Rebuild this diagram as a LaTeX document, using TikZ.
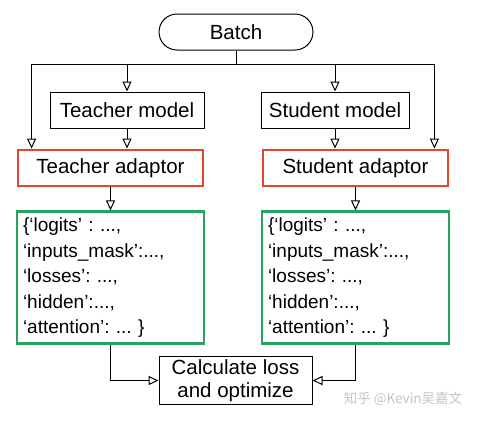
\documentclass[tikz,border=0pt]{standalone}
\usepackage{fontspec}
\setmainfont{Liberation Sans}
\newfontfamily\cjk{Noto Sans CJK SC}
\usepackage{xcolor}
\usepackage{tikz}
\usetikzlibrary{arrows.meta,positioning}
\frenchspacing
\definecolor{adaptred}{HTML}{E4462C}
\definecolor{outgreen}{HTML}{26A35E}
\definecolor{markgray}{HTML}{C4C4C4}
\tikzset{
  pill/.style={rectangle,rounded corners=18pt,draw=black,line width=1pt,fill=white,minimum width=154pt,minimum height=36pt,font=\fontsize{20.5}{24}\selectfont},
  plain/.style={rectangle,draw=black,line width=1pt,fill=white,align=center,minimum height=36pt,font=\fontsize{20.5}{24}\selectfont},
  adaptor/.style={rectangle,draw=adaptred,line width=2.8pt,fill=white,minimum width=185pt,minimum height=36pt,font=\fontsize{20.5}{24}\selectfont},
  outbox/.style={rectangle,draw=outgreen,line width=2.8pt,fill=white,align=left,text width=175pt,minimum width=187pt,minimum height=132pt,inner xsep=6pt,font=\fontsize{19}{25.5}\selectfont},
  edge/.style={-{Triangle[open,length=10pt,width=9pt]},line width=1pt,draw=black}
}

\begin{document}
\begin{tikzpicture}[x=1pt,y=-1pt,node distance=23pt]
\useasboundingbox (0,0) rectangle (478,421);
\node[pill] (batch) at (236,32) {Batch};
\coordinate (split) at (236,64);
\node[plain,minimum width=154pt] (tmodel) at (127,110) {Teacher model};
\node[plain,minimum width=148pt] (smodel) at (335,110) {Student model};
\node[adaptor] (tadapt) at (110.5,168) {Teacher adaptor};
\node[adaptor] (sadapt) at (355.5,168) {Student adaptor};
\node[outbox,below=of tadapt] (tout) {\{‘logits’ : ...,\\‘inputs\_mask’:...,\\‘losses’: ...,\\‘hidden’:...,\\‘attention’: ... \}};
\node[outbox,below=of sadapt] (sout) {\{‘logits’ : ...,\\‘inputs\_mask’:...,\\‘losses’: ...,\\‘hidden’:...,\\‘attention’: ... \}};
\node[plain,minimum width=153pt,minimum height=47pt,font=\fontsize{20.5}{22.5}\selectfont] (calc) at (235.5,380.5) {Calculate loss\\and optimize};
\node[font=\cjk\fontsize{13.5}{14}\selectfont,text=markgray] (mark) at (403,399) {知乎 @Kevin吴嘉文};
\draw[line width=1pt] (batch) -- (split);
\draw[edge] (split) -| ([xshift=15pt]tadapt.north west);
\draw[edge] (split) -| ([xshift=-15pt]sadapt.north east);
\draw[edge] (split -| tmodel.north) -- (tmodel.north);
\draw[edge] (split -| smodel.north) -- (smodel.north);
\draw[edge] (tmodel) -- (tmodel |- tadapt.north);
\draw[edge] (smodel) -- (smodel |- sadapt.north);
\draw[edge] (tadapt) -- (tout);
\draw[edge] (sadapt) -- (sout);
\draw[edge] (tout.south) |- (calc.west);
\draw[edge] (sout.south) |- (calc.east);
\end{tikzpicture}
\end{document}
